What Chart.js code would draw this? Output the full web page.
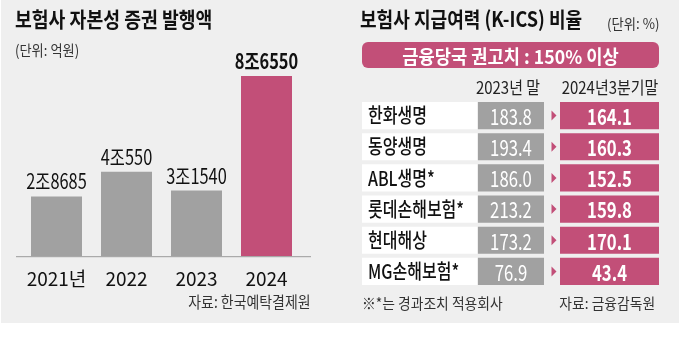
<!DOCTYPE html>
<html>
<head>
<meta charset="utf-8">
<script src="https://cdn.jsdelivr.net/npm/chart.js@4"></script>
<style>
  body { margin: 0; background: #fff; font-family: "Noto Sans CJK KR", sans-serif; }
  #panel { position: absolute; left: 1px; top: 0; width: 678px; height: 323px; background: #efefef; }
  .t { position: absolute; white-space: nowrap; line-height: 1; color: #111; transform-origin: left top; }
  .r { transform-origin: right top; text-align: right; }
  .c { transform-origin: center top; text-align: center; }
  canvas { position: absolute; top: 0; }
</style>
</head>
<body>
<div id="panel"></div>
<canvas id="issue" width="340" height="323" style="left:0"></canvas>
<canvas id="kics" width="341" height="323" style="left:340px"></canvas>

<div class="t" style="left:15px;top:8px;font-size:21px;font-weight:700;transform:scaleX(0.87)">보험사 자본성 증권 발행액</div>
<div class="t" style="left:15px;top:42px;font-size:15px;color:#333;transform:scaleX(0.88)">(단위: 억원)</div>
<div class="t r" style="right:370px;top:293px;font-size:16px;color:#333;transform:scaleX(0.87)">자료: 한국예탁결제원</div>

<div class="t" style="left:360px;top:8px;font-size:21px;font-weight:700;transform:scaleX(0.86)">보험사 지급여력 (K-ICS) 비율</div>
<div class="t" style="left:607px;top:16px;font-size:14px;color:#333;transform:scaleX(0.95)">(단위: %)</div>
<div style="position:absolute;left:362px;top:42px;width:297px;height:26px;border-radius:6px;background:#c24f78"></div>
<div class="t c" style="left:362px;width:297px;top:46px;font-size:19px;font-weight:700;color:#fff;transform:scaleX(0.93)">금융당국 권고치 : 150% 이상</div>
<div class="t c" style="left:458px;width:100px;top:78px;font-size:17px;color:#222;transform:scaleX(0.88)">2023년 말</div>
<div class="t c" style="left:550px;width:120px;top:78px;font-size:17px;color:#222;transform:scaleX(0.88)">2024년3분기말</div>
<div class="t" style="left:362px;top:295px;font-size:15px;color:#333;transform:scaleX(0.92)">※*는 경과조치 적용회사</div>
<div class="t r" style="right:26px;top:295px;font-size:15px;color:#333;transform:scaleX(0.92)">자료: 금융감독원</div>

<script>
const years = ['2021년', '2022', '2023', '2024'];
const issueAmount = [28685, 40550, 31540, 86550]; // 억원

const companies = ['한화생명', '동양생명', 'ABL생명*', '롯데손해보험*', '현대해상', 'MG손해보험*'];
const ratio2023 = [183.8, 193.4, 186.0, 213.2, 173.2, 76.9];
const ratio2024q3 = [164.1, 160.3, 152.5, 159.8, 170.1, 43.4];

const GREY = '#a1a1a1';
const PINK = '#c24f78';
const FONT = '"Noto Sans CJK KR", sans-serif';

const drawText = (ctx, text, x, y, font, color, align, sx) => {
  ctx.save();
  ctx.translate(x, y);
  ctx.scale(sx, 1);
  ctx.font = font;
  ctx.fillStyle = color;
  ctx.textAlign = align;
  ctx.textBaseline = 'middle';
  ctx.fillText(text, 0, 0);
  ctx.restore();
};

const toJo = v => Math.floor(v / 10000) + '조' + (v % 10000);

const issueLabels = {
  id: 'issueLabels',
  afterDatasetsDraw(chart) {
    const ctx = chart.ctx;
    const area = chart.chartArea;
    // baseline
    ctx.save();
    ctx.strokeStyle = '#9a9a9a';
    ctx.lineWidth = 1;
    ctx.beginPath();
    ctx.moveTo(area.left - 5.5, area.bottom + 0.5);
    ctx.lineTo(area.right + 9.5, area.bottom + 0.5);
    ctx.stroke();
    ctx.restore();
    chart.getDatasetMeta(0).data.forEach((bar, i) => {
      const last = i === issueAmount.length - 1;
      drawText(ctx, toJo(issueAmount[i]), bar.x, bar.y - 15,
        (last ? '700' : '400') + ' 21px ' + FONT, '#111', 'center', 0.78);
    });
  },
};

new Chart(document.getElementById('issue'), {
  type: 'bar',
  data: {
    labels: years,
    datasets: [{
      data: issueAmount,
      backgroundColor: years.map((y, i) => (i === years.length - 1 ? PINK : GREY)),
      barPercentage: 51 / 70,
      categoryPercentage: 1,
    }],
  },
  options: {
    responsive: false,
    animation: false,
    layout: { padding: { left: 21.5, right: 38.5, top: 48, bottom: 30 } },
    plugins: { legend: { display: false }, tooltip: { enabled: false } },
    scales: {
      x: {
        grid: { display: false },
        border: { display: false },
        ticks: { color: '#111', font: { family: FONT, size: 19 }, padding: 3 },
      },
      y: { display: false, min: 0, max: 100000 },
    },
  },
  plugins: [issueLabels],
});

const kicsCells = {
  id: 'kicsCells',
  afterDatasetsDraw(chart) {
    const ctx = chart.ctx;
    const names = chart.getDatasetMeta(0).data;
    const prev = chart.getDatasetMeta(1).data;
    const now = chart.getDatasetMeta(2).data;
    companies.forEach((name, i) => {
      const y = names[i].y;
      drawText(ctx, name, names[i].base + 6, y, '500 20px ' + FONT, '#111', 'left', 0.8);
      drawText(ctx, ratio2023[i].toFixed(1), prev[i].getCenterPoint().x, y + 1,
        '400 22px ' + FONT, '#fff', 'center', 0.76);
      drawText(ctx, ratio2024q3[i].toFixed(1), now[i].getCenterPoint().x, y + 1,
        '700 22px ' + FONT, '#fff', 'center', 0.76);
      // arrow
      const ax = chart.scales.x.getPixelForValue(189.5);
      ctx.save();
      ctx.fillStyle = PINK;
      ctx.beginPath();
      ctx.moveTo(ax, y - 5);
      ctx.lineTo(ax + 5, y);
      ctx.lineTo(ax, y + 5);
      ctx.closePath();
      ctx.fill();
      ctx.restore();
    });
  },
};

new Chart(document.getElementById('kics'), {
  type: 'bar',
  data: {
    labels: companies,
    datasets: [
      { data: companies.map(() => [0, 115]), backgroundColor: '#ffffff' },
      { data: ratio2023.map(() => [116, 182]), backgroundColor: GREY },
      { data: ratio2024q3.map(() => [198, 297]), backgroundColor: PINK },
    ],
  },
  options: {
    indexAxis: 'y',
    responsive: false,
    animation: false,
    layout: { padding: { left: 22, right: 22, top: 100, bottom: 36 } },
    datasets: { bar: { grouped: false, barPercentage: 0.87, categoryPercentage: 1 } },
    plugins: { legend: { display: false }, tooltip: { enabled: false } },
    scales: {
      x: { display: false, min: 0, max: 297 },
      y: { display: false },
    },
  },
  plugins: [kicsCells],
});
</script>
</body>
</html>
